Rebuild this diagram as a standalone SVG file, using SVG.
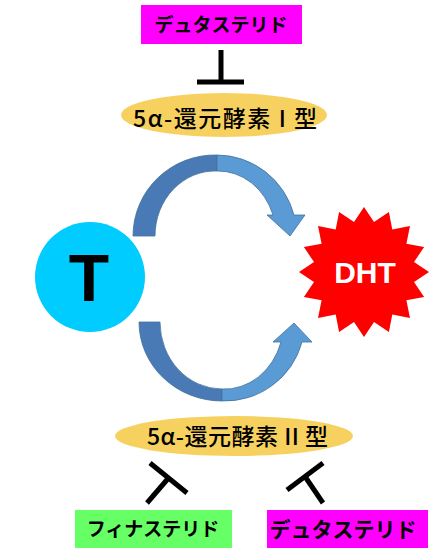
<svg xmlns="http://www.w3.org/2000/svg" width="435" height="557" viewBox="0 0 435 557">
<style>
.lbl{font-family:"Noto Sans CJK JP","Liberation Sans",sans-serif;font-weight:700;fill:#000;text-anchor:middle}
.enz{font-family:"Noto Sans CJK JP","Liberation Sans",sans-serif;font-weight:500;fill:#000;font-size:23px}
.inh{stroke:#000;stroke-width:5;fill:none}
.dark{fill:#4A7AB5;stroke:#41719C;stroke-width:0.8}
.light{fill:#5B9BD5;stroke:#41719C;stroke-width:0.8}
.ell{fill:#F7D15F}
</style>
<rect width="435" height="557" fill="#fff"/>
<g id="dutasteride-top">
<rect x="141" y="5" width="161" height="39" fill="#FF00FF"/>
<text class="lbl" x="221" y="32" font-size="19">デュタステリド</text>
</g>
<g id="enzyme1">
<ellipse class="ell" cx="224" cy="115" rx="103" ry="22"/>
<text class="enz" x="133" y="127" textLength="184" lengthAdjust="spacing">5α-還元酵素 I 型</text>
</g>
<g id="T">
<circle cx="90" cy="277" r="55" fill="#00CCFF"/>
<text x="89" y="301" font-family="Liberation Sans,Arial,sans-serif" font-weight="700" font-size="66" text-anchor="middle" fill="#000">T</text>
</g>
<g id="DHT">
<polygon fill="#FF0000" points="429,272 414,282 424.1,296.9 406.4,300.3 410,318 392.3,314.4 388.9,332.1 374,322 364,337 354,322 339.1,332.1 335.7,314.4 318,318 321.6,300.3 303.9,296.9 314,282 299,272 314,262 303.9,247.1 321.6,243.7 318,226 335.7,229.6 339.1,211.9 354,222 364,207 374,222 388.9,211.9 392.3,229.6 410,226 406.4,243.7 424.1,247.1 414,262"/>
<text x="365" y="283" font-family="Liberation Sans,Arial,sans-serif" font-weight="700" font-size="30" text-anchor="middle" fill="#fff">DHT</text>
</g>
<g id="enzyme2">
<ellipse class="ell" cx="234" cy="436" rx="119" ry="20"/>
<text class="enz" x="147" y="445" textLength="181" lengthAdjust="spacing">5α-還元酵素 II 型</text>
</g>
<g id="finasteride">
<rect x="75" y="510" width="157" height="38" fill="#66FF66"/>
<text class="lbl" x="153" y="536" font-size="19">フィナステリド</text>
</g>
<g id="dutasteride-bottom">
<rect x="267" y="510" width="161" height="38" fill="#FF00FF"/>
<text class="lbl" x="343" y="537" font-size="21">デュタステリド</text>
</g>
<g id="connectors">
<path class="dark" d="M133,236 A82 81 0 0 1 217,155 L217,171 A60 65 0 0 0 155,236 Z"/>
<path class="light" d="M217,155 A80 81 0 0 1 294,215 L305,215 L290,236 L267,215 L273,215 A58 65 0 0 0 217,171 Z"/>
<path class="dark" d="M139,322 A83 79 0 0 0 222,401 L222,389 A62 67 0 0 1 160,322 Z"/>
<path class="light" d="M222,401 A80 79 0 0 0 302,342 L312,342 L294,323 L273,342 L281,342 A59 67 0 0 1 222,389 Z"/>
<line class="inh" x1="221" y1="50" x2="221" y2="82"/>
<line class="inh" x1="197" y1="82" x2="244" y2="82"/>
<line class="inh" x1="150" y1="463" x2="187" y2="493"/>
<line class="inh" x1="168.5" y1="478" x2="147" y2="503"/>
<line class="inh" x1="287" y1="490" x2="323" y2="463"/>
<line class="inh" x1="305" y1="476.5" x2="323" y2="503"/>
</g>
</svg>
